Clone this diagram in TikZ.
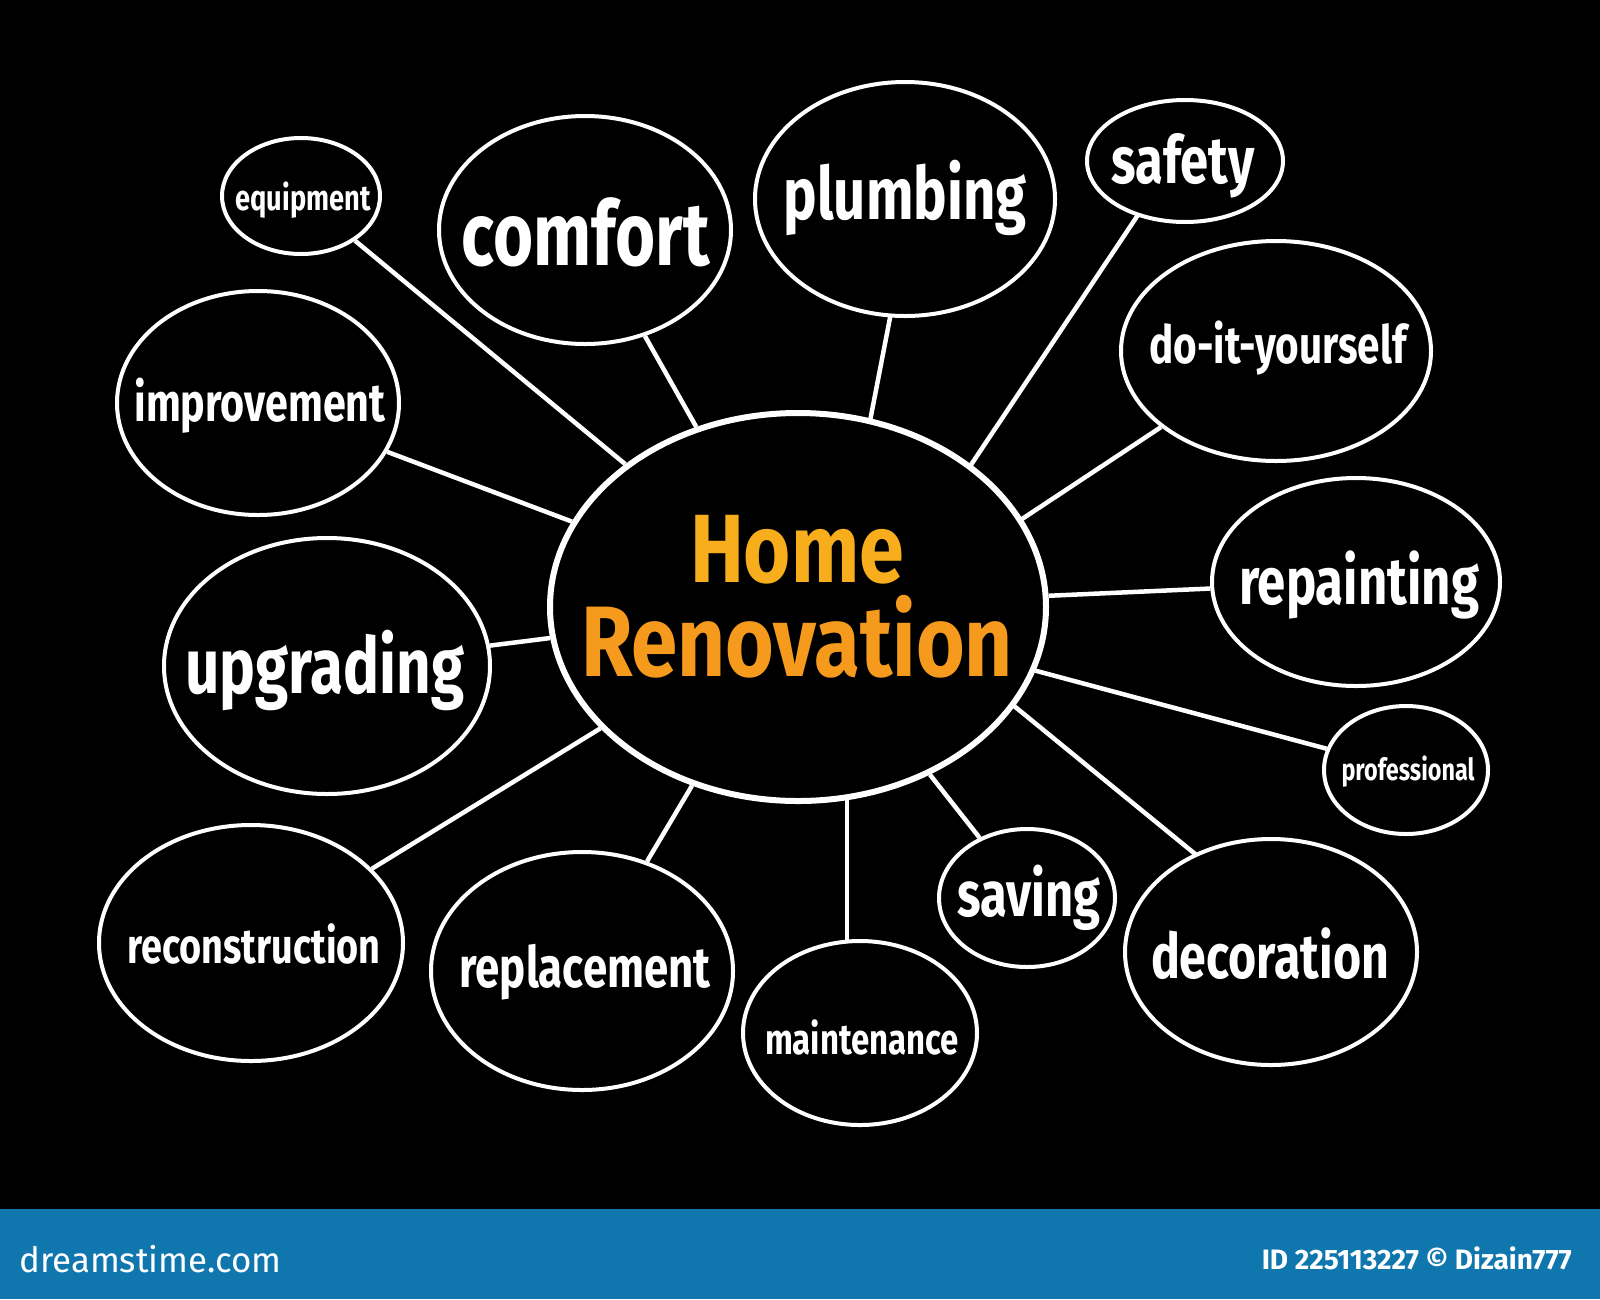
\documentclass[tikz,border=0pt]{standalone}
\usepackage{fontspec}
\usepackage{graphicx}
\setmainfont{Fira Sans}
\usetikzlibrary{shapes.geometric}
\definecolor{barblue}{HTML}{0F77AE}
\definecolor{homec}{HTML}{F8AE1C}
\definecolor{renoc}{HTML}{F59A1C}
\newcommand{\fitw}[2]{\resizebox{#1}{!}{\scalebox{1}[1.3]{\bfseries #2}}}
\newcommand{\fitc}[2]{\resizebox{#1}{!}{\scalebox{1}[1.2]{\bfseries #2}}}
\pgfdeclarelayer{bglayer}
\pgfdeclarelayer{linelayer}
\pgfsetlayers{bglayer,linelayer,main}
\begin{document}
\begin{tikzpicture}[x=1pt,y=-1pt,
  bub/.style 2 args={ellipse, draw=white, line width=4pt, fill=black, inner sep=0pt,
    minimum width=#1, minimum height=#2},
  lbl/.style={text=white, inner sep=0pt},
  conn/.style={draw=white, line width=4.5pt}]
\useasboundingbox (0,0) rectangle (1600,1299);
\begin{pgfonlayer}{bglayer}
  \fill[black] (0,0) rectangle (1600,1210);
  \fill[barblue] (0,1209) rectangle (1600,1299);
\end{pgfonlayer}

% hub
\node[bub={496}{388}, line width=6pt] (hub) at (798,607) {};
\node[inner sep=0pt, align=center] (title) at (797,597)
  {{\color{homec}\fitc{214pt}{Home}}\\[10pt]{\color{renoc}\fitc{432pt}{Renovation}}};

% satellites
\node[bub={158}{116}] (equip) at (301,196) {};
\node[lbl] (equipt) at (303,200) {\fitw{135pt}{equipment}};
\node[bub={292}{228}] (comfort) at (585,230) {};
\node[lbl] (comfortt) at (586,232) {\fitw{248pt}{comfort}};
\node[bub={300}{234}] (plumb) at (905,199) {};
\node[lbl] (plumbt) at (905,198) {\fitw{243pt}{plumbing}};
\node[bub={196}{122}] (safety) at (1185,161) {};
\node[lbl] (safetyt) at (1183,166) {\fitw{143pt}{safety}};
\node[bub={310}{220}] (diy) at (1276,351) {};
\node[lbl] (diyt) at (1278,348) {\fitw{257pt}{do-it-yourself}};
\node[bub={282}{224}] (improve) at (258,403) {};
\node[lbl] (improvet) at (260,406) {\fitw{251pt}{improvement}};
\node[bub={288}{208}] (repaint) at (1356,582) {};
\node[lbl] (repaintt) at (1359,585) {\fitw{240pt}{repainting}};
\node[bub={326}{256}] (upgrade) at (327,666) {};
\node[lbl] (upgradet) at (325,670) {\fitw{279pt}{upgrading}};
\node[bub={164}{128}] (prof) at (1406,770) {};
\node[lbl] (proft) at (1408,772) {\fitw{133pt}{professional}};
\node[bub={304}{236}] (recon) at (251,943) {};
\node[lbl] (recont) at (254,944) {\fitw{253pt}{reconstruction}};
\node[bub={302}{238}] (replace) at (582,971) {};
\node[lbl] (replacet) at (585,972) {\fitw{251pt}{replacement}};
\node[bub={234}{184}] (maint) at (860,1033) {};
\node[lbl] (maintt) at (862,1037) {\fitw{194pt}{maintenance}};
\node[bub={176}{138}] (saving) at (1027,898) {};
\node[lbl] (savingt) at (1029,898) {\fitw{143pt}{saving}};
\node[bub={292}{226}] (decor) at (1271,952) {};
\node[lbl] (decort) at (1270,954) {\fitw{238pt}{decoration}};

% connectors (behind the bubbles)
\begin{pgfonlayer}{linelayer}
  \draw[conn] (hub) -- (equip);
  \draw[conn] (hub) -- (comfort);
  \draw[conn] ([xshift=36pt]hub.center) -- ([xshift=8pt]plumb.center);
  \draw[conn] ([xshift=78pt]hub.center) -- ([xshift=-11pt]safety.center);
  \draw[conn] ([xshift=91pt]hub.center) -- (diy);
  \draw[conn] (hub) -- (improve);
  \draw[conn] (hub) -- (repaint);
  \draw[conn] (hub) -- (upgrade);
  \draw[conn] (hub) -- (prof);
  \draw[conn] (hub) -- (recon);
  \draw[conn] (hub) -- (replace);
  \draw[conn] ([xshift=-13pt]maint.center) -- ([xshift=-13pt]maint.center |- hub.center);
  \draw[conn] (hub) -- (saving);
  \draw[conn] ([xshift=95pt]hub.center) -- ([xshift=44pt]decor.center);
\end{pgfonlayer}

% footer
\node[text=white, anchor=west, inner sep=0pt] (dt) at (19,1259) {\resizebox{262pt}{!}{dreamstime.com}};
\node[text=white, anchor=east, inner sep=0pt] (idt) at (1572,1258) {\resizebox{310pt}{!}{\bfseries ID 225113227 © Dizain777}};
\end{tikzpicture}
\end{document}
